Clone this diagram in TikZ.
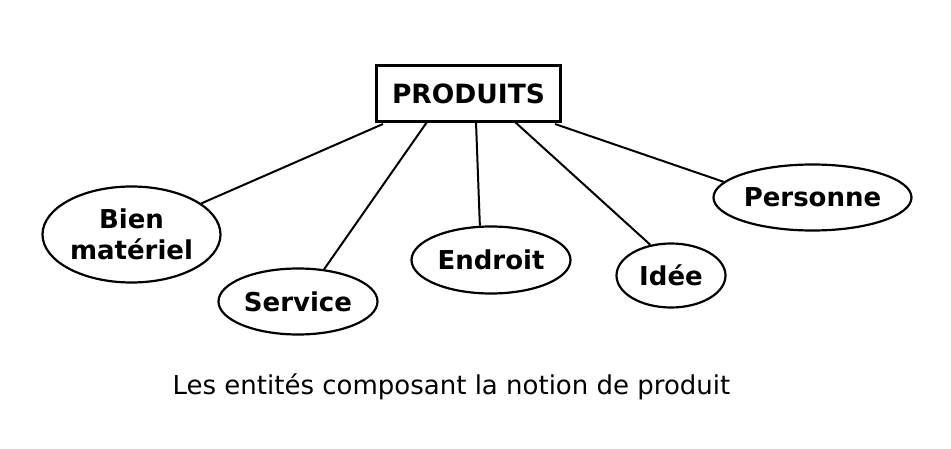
\documentclass[tikz,border=0pt]{standalone}
\usepackage{fontspec}
\setmainfont{DejaVu Sans}
\usetikzlibrary{shapes.geometric}
\begin{document}
\begin{tikzpicture}[x=1pt,y=-1pt,
  ent/.style={draw,ellipse,line width=2.2pt,inner sep=0pt,font=\fontsize{26}{31}\selectfont\bfseries,align=center},
  box/.style={draw,rectangle,line width=2.6pt,inner sep=0pt,minimum width=184pt,minimum height=56pt,font=\fontsize{26.5}{31}\selectfont\bfseries},
  link/.style={line width=2pt}]
\useasboundingbox (0,0) rectangle (951,449);
\node[box] (P) at (468.5,93.5) {PRODUITS};
\node[ent,minimum width=178pt,minimum height=96pt] (bien) at (131.5,234.5) {Bien\\mat\'eriel};
\node[ent,minimum width=159pt,minimum height=66pt] (serv) at (298,301.5) {Service};
\node[ent,minimum width=159pt,minimum height=67pt] (endr) at (491,260) {Endroit};
\node[ent,minimum width=109pt,minimum height=64pt] (idee) at (671,275.5) {Id\'ee};
\node[ent,minimum width=198pt,minimum height=66pt] (pers) at (812.5,197.5) {Personne};
\coordinate (s1) at (383,124);
\coordinate (s2) at (427,122);
\coordinate (s3) at (476,122);
\coordinate (s4) at (515,122);
\coordinate (s5) at (555,124);
\draw[link] (s1) -- (bien.24);
\draw[link] (s2) -- (serv.51);
\draw[link] (s3) -- (endr.108);
\draw[link] (s4) -- (idee.124);
\draw[link] (s5) -- (pers.170);
\node[font=\fontsize{26}{31}\selectfont] (cap) at (451.5,387) {Les entit\'es composant la notion de produit};
\end{tikzpicture}
\end{document}
